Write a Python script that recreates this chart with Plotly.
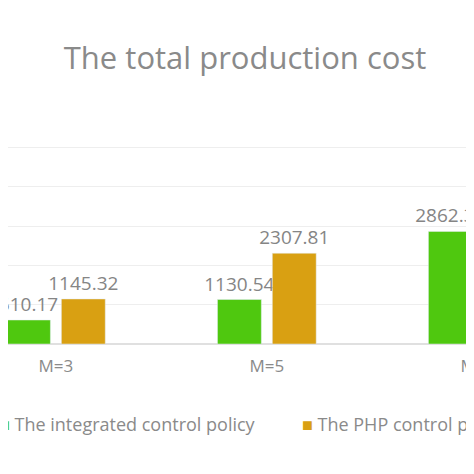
import plotly.graph_objects as go

categories = ["M=3", "M=5", "M=7"]
integrated = [610.17, 1130.54, 2862.34]
php = [1145.32, 2307.81, 4951.26]
series_names = ["The integrated control policy", "The PHP control policy"]
colors = ["#4fc80f", "#d9a012"]

fig = go.Figure()
for vals, name, col in zip([integrated, php], series_names, colors):
    fig.add_bar(x=categories, y=vals, name=name, marker=dict(color=col),
                text=[f"{v:.2f}" for v in vals], textposition="outside",
                constraintext="none",
                textfont=dict(size=19, color="#858585"), cliponaxis=False)

fig.add_annotation(x=250/474, y=-0.34, xref="paper", yref="paper",
                   xanchor="right", yanchor="middle", showarrow=False,
                   text=f"<span style='color:{colors[0]}'>■</span> {series_names[0]}",
                   font=dict(size=18, color="#8a8a8a"))
fig.add_annotation(x=292/474, y=-0.34, xref="paper", yref="paper",
                   xanchor="left", yanchor="middle", showarrow=False,
                   text=f"<span style='color:{colors[1]}'>■</span> {series_names[1]}",
                   font=dict(size=18, color="#8a8a8a"))

fig.update_layout(
    width=474, height=474,
    paper_bgcolor="white", plot_bgcolor="white",
    font=dict(family="Open Sans", color="#8a8a8a"),
    title=dict(text="The total production cost", x=0.5, xanchor="center",
               y=0.895, yanchor="middle", font=dict(size=31, color="#8a8a8a")),
    barmode="group", bargap=0.48, bargroupgap=0.2,
    margin=dict(l=0, r=0, t=100, b=138, autoexpand=False),
    showlegend=False,
)
fig.update_xaxes(range=[-0.227, 2.02], showline=False, ticks="",
                 ticklabelstandoff=10, tickfont=dict(size=17, color="#8a8a8a"))
fig.update_yaxes(range=[0, 6000], dtick=1000, showticklabels=False,
                 gridcolor="#eeeeee", zeroline=True, zerolinecolor="#e0e0e0")

fig.write_html("out.html")
